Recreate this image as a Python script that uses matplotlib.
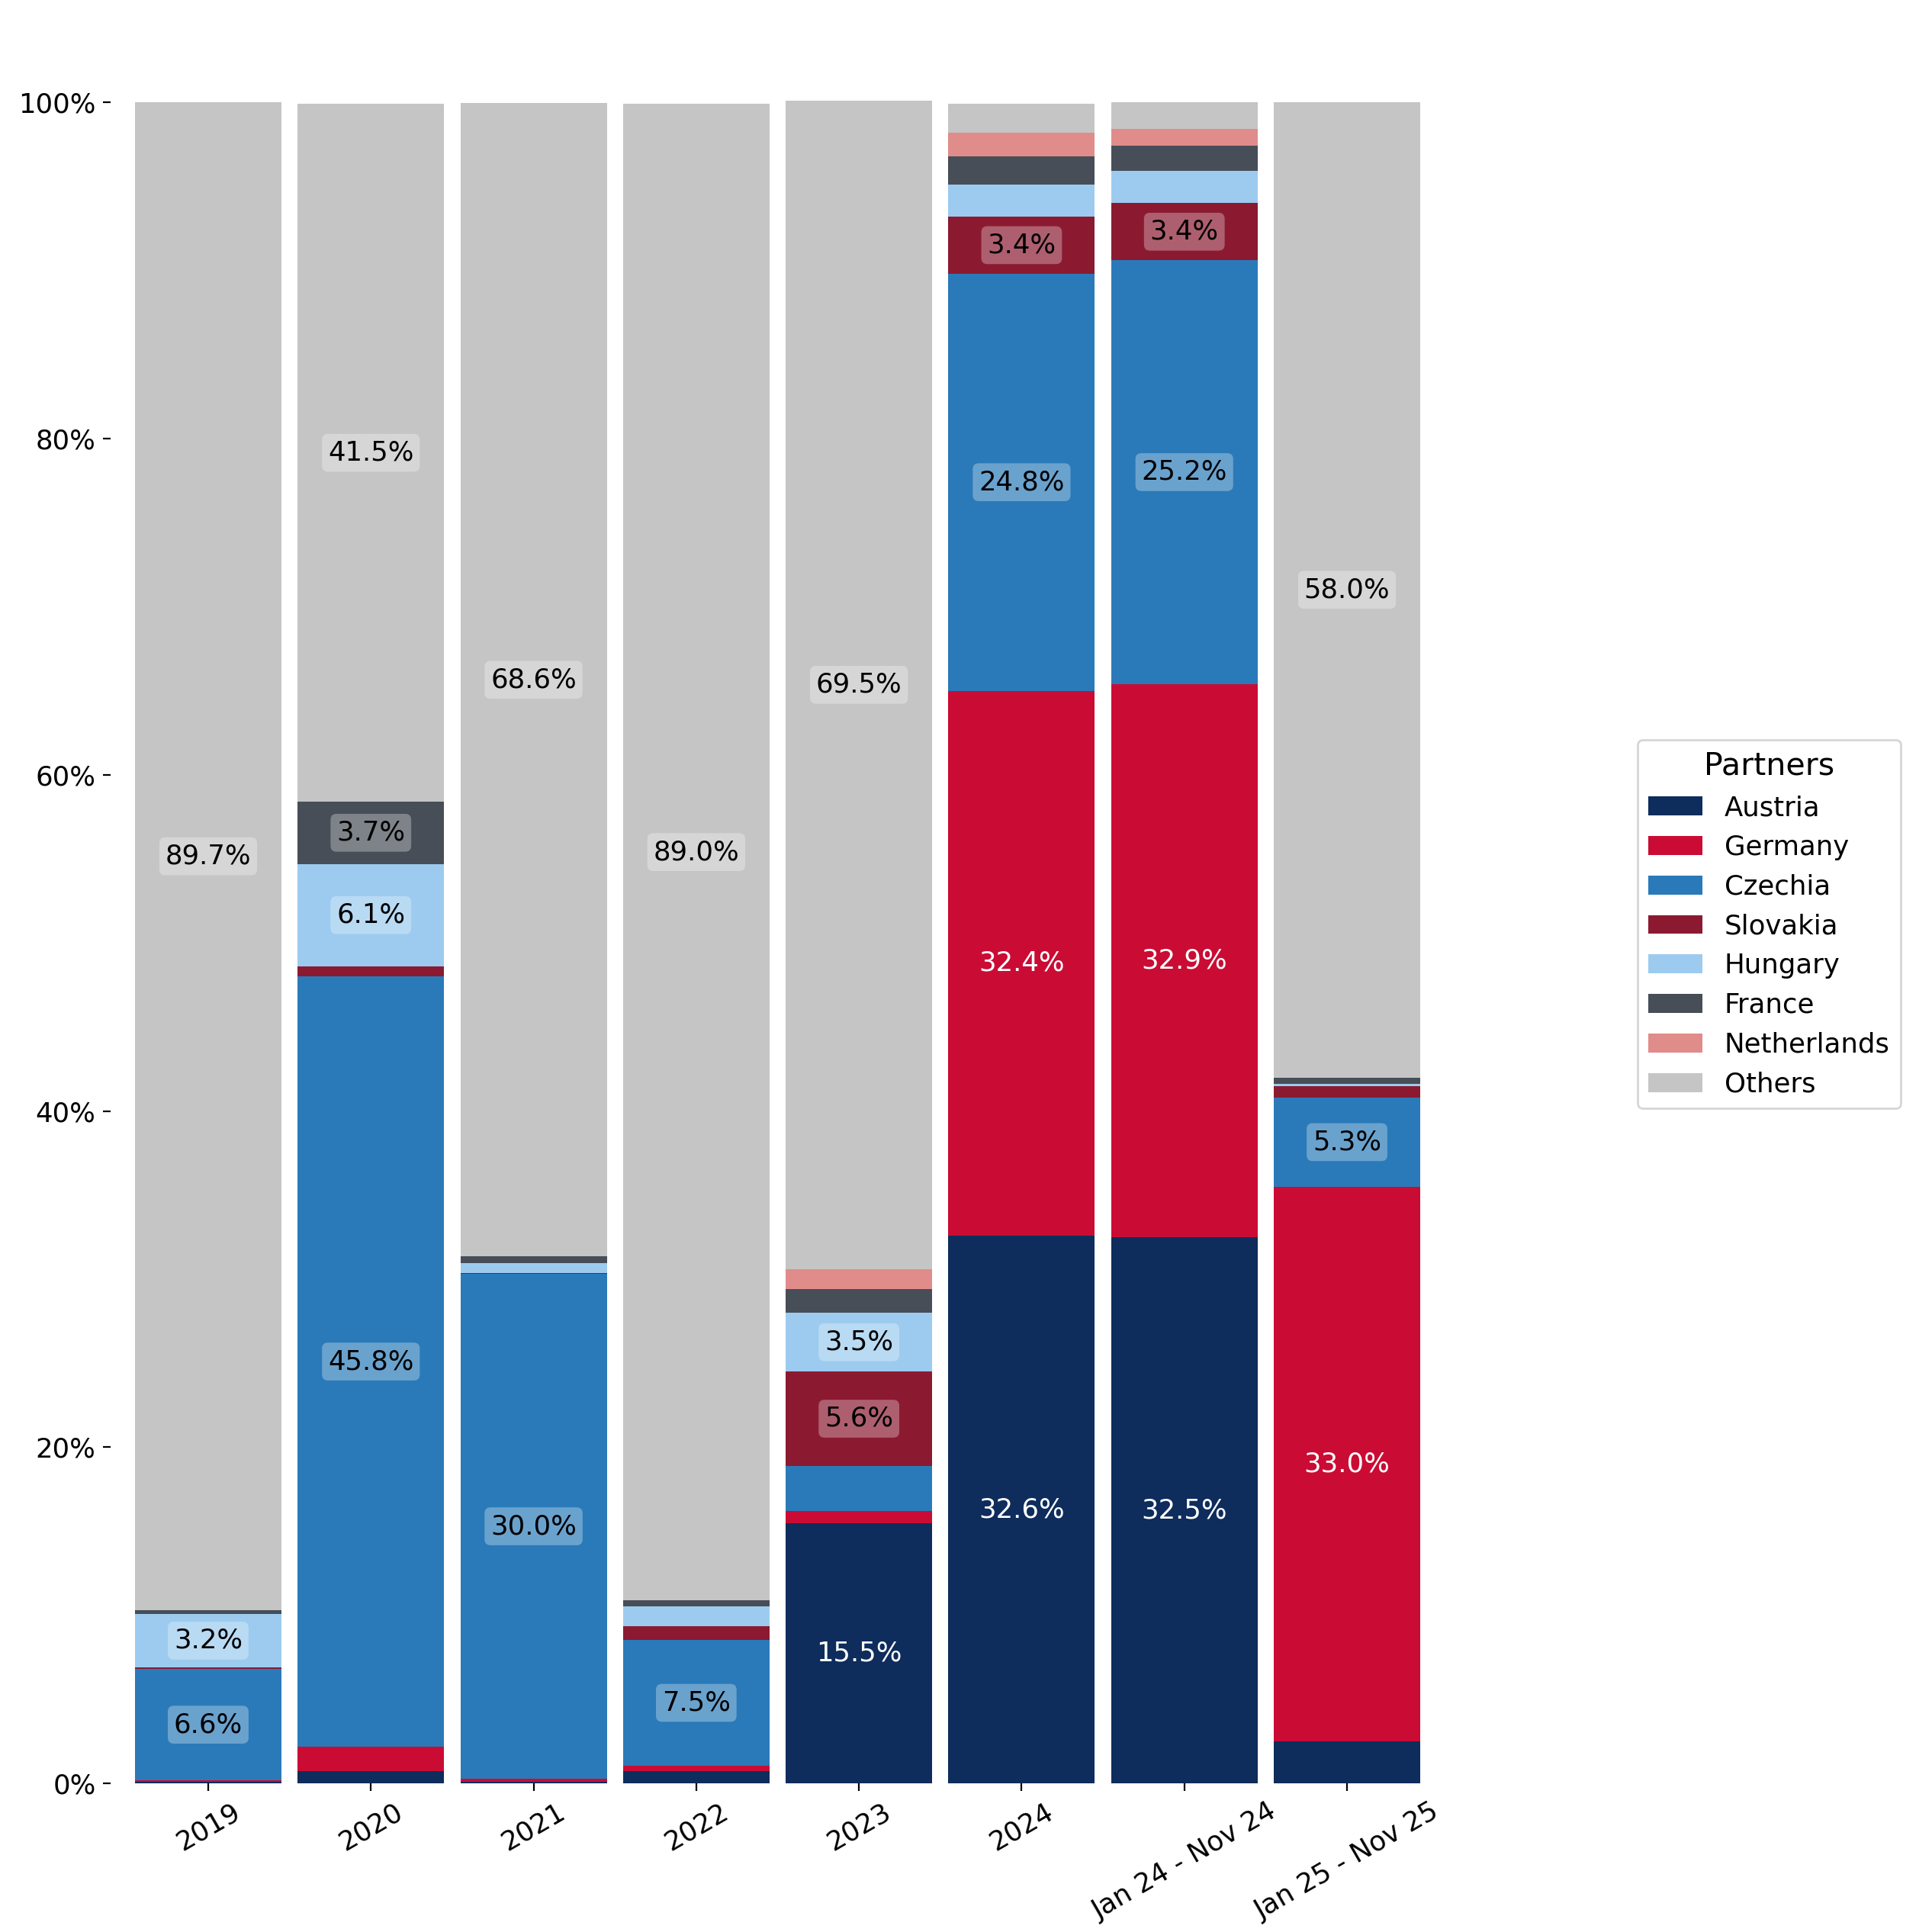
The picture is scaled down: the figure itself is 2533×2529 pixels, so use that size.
import matplotlib
matplotlib.use("Agg")
import matplotlib.pyplot as plt
import numpy as np

categories = ["2019", "2020", "2021", "2022", "2023", "2024", "Jan 24 - Nov 24", "Jan 25 - Nov 25"]
partners = ["Austria", "Germany", "Czechia", "Slovakia", "Hungary", "France", "Netherlands", "Others"]

austria     = [0.1, 0.75, 0.1, 0.75, 15.5, 32.6, 32.5, 2.5]
germany     = [0.1, 1.45, 0.2, 0.3, 0.7, 32.4, 32.9, 33.0]
czechia     = [6.6, 45.8, 30.0, 7.5, 2.7, 24.8, 25.2, 5.3]
slovakia    = [0.1, 0.6, 0.05, 0.8, 5.6, 3.4, 3.4, 0.7]
hungary     = [3.2, 6.1, 0.6, 1.2, 3.5, 1.9, 1.9, 0.1]
france      = [0.2, 3.7, 0.4, 0.35, 1.4, 1.7, 1.5, 0.4]
netherlands = [0.0, 0.0, 0.0, 0.0, 1.2, 1.4, 1.0, 0.0]
others      = [89.7, 41.5, 68.6, 89.0, 69.5, 1.7, 1.6, 58.0]

series = [austria, germany, czechia, slovakia, hungary, france, netherlands, others]
colors = ["#0e2c5c", "#ca0c35", "#2a7ab9", "#8b1a31", "#9ccbef", "#474e57", "#e08c8a", "#c5c5c5"]
white_text = {"Austria", "Germany"}
label_threshold = 3.0

FS = 12.8
fig = plt.figure(figsize=(2533 / 200, 2529 / 200), dpi=200)
ax = fig.add_axes([145 / 2533, 0.0754, (1894 - 145) / 2533, 0.8716])

x = np.arange(len(categories))
bottom = np.zeros(len(categories))
for name, vals, col in zip(partners, series, colors):
    vals = np.array(vals, dtype=float)
    ax.bar(x, vals, width=0.9, bottom=bottom, color=col, label=name, clip_on=False)
    for xi, v, b in zip(x, vals, bottom):
        if v >= label_threshold:
            yc = b + v / 2
            if name in white_text:
                ax.text(xi, yc, f"{v:.1f}%", ha="center", va="center", color="white", fontsize=FS)
            else:
                ax.text(xi, yc, f"{v:.1f}%", ha="center", va="center", color="black", fontsize=FS,
                        bbox=dict(boxstyle="round,pad=0.22", facecolor="white", alpha=0.3, edgecolor="none"))
    bottom += vals

ax.set_xlim(-0.6, len(categories) - 0.4)
ax.set_ylim(0, 100)
ax.set_yticks([0, 20, 40, 60, 80, 100])
ax.set_yticklabels([f"{t}%" for t in [0, 20, 40, 60, 80, 100]], fontsize=FS)
ax.set_xticks(x)
ax.set_xticklabels(categories, rotation=30, ha="center", fontsize=FS)
for s in ax.spines.values():
    s.set_visible(False)

leg = ax.legend(title="Partners", loc="center left", bbox_to_anchor=(2147 / 2533, 0.521),
                bbox_transform=fig.transFigure, borderaxespad=0, fontsize=FS, title_fontsize=14.8,
                frameon=True)

fig.savefig("out.png", dpi=200)
